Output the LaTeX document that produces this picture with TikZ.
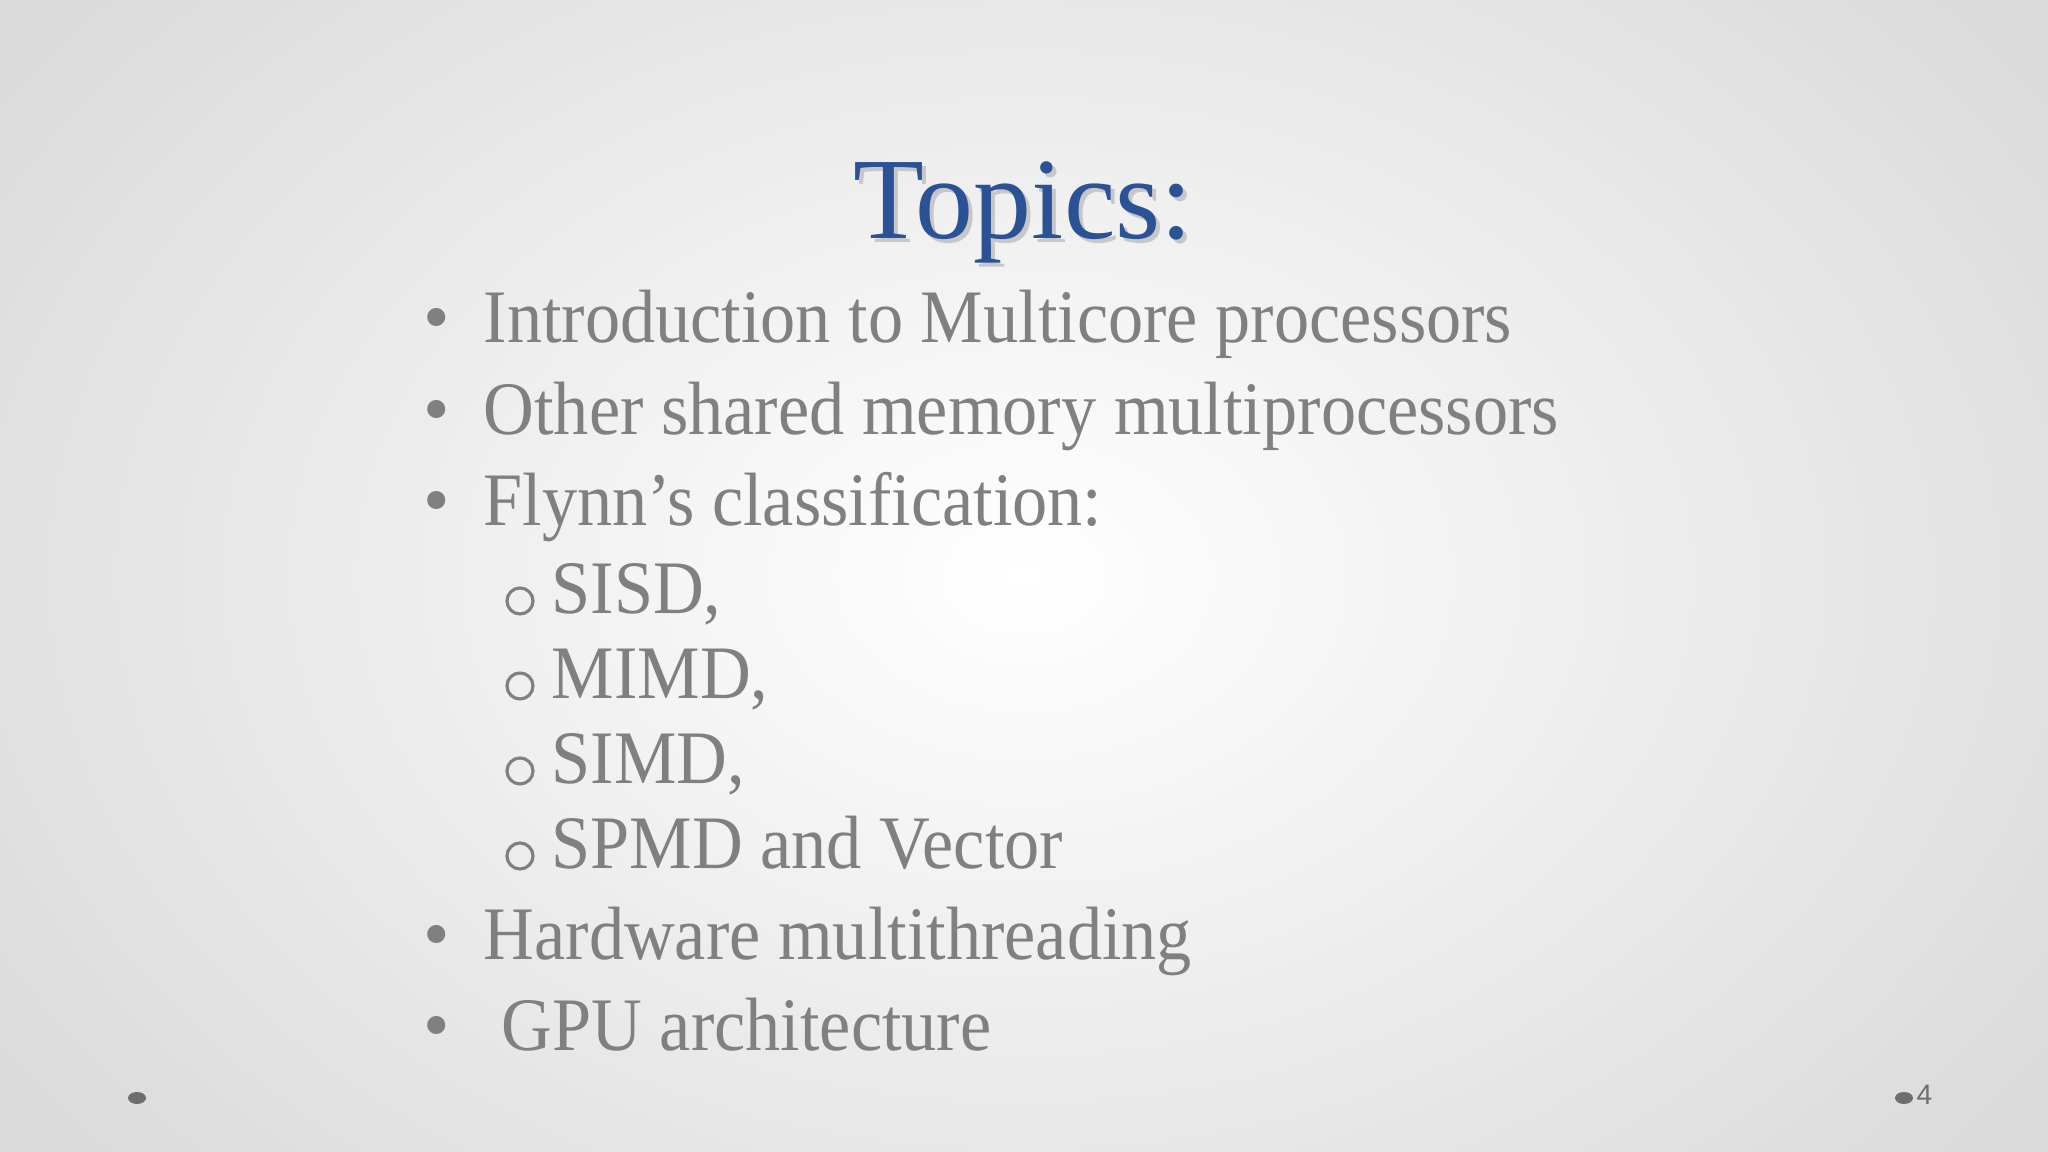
\documentclass[tikz,border=0pt]{standalone}
\usepackage{fontspec}
\setmainfont{Liberation Serif}
\newfontfamily\narrowf[FakeStretch=0.93]{Liberation Serif}
\newfontfamily\sansf{Liberation Sans}
\definecolor{titleblue}{RGB}{44,82,150}
\definecolor{txtgray}{RGB}{128,128,128}
\definecolor{dotgray}{RGB}{110,110,110}
\begin{document}
\begin{tikzpicture}[
  item/.style={anchor=base west,inner sep=0pt,text=txtgray,font=\narrowf\fontsize{21.5}{24}\selectfont},
  bul/.style={anchor=base,inner sep=0pt,text=txtgray,font=\fontsize{21.5}{24}\selectfont}]
\useasboundingbox (0,0) rectangle (20.48,11.52);
\shade[inner color=white,outer color=black!14] (-2,-3) rectangle (22.48,14.52);
\node[anchor=base,inner sep=0pt,text=black!22,font=\fontsize{33}{36}\selectfont] (tsh) at (10.27,9.09) {Topics:};
\node[anchor=base,inner sep=0pt,text=titleblue,font=\fontsize{33}{36}\selectfont] (title) at (10.23,9.13) {Topics:};
\foreach \y/\t/\n in {8.09/Introduction to Multicore processors/a,7.17/Other shared memory multiprocessors/b,6.26/Flynn’s classification:/c,1.92/Hardware multithreading/d}{
  \node[bul] (b\n) at (4.37,\y) {•};
  \node[item] (t\n) at (4.83,\y) {\t};
}
\node[bul] (be) at (4.37,1.01) {•};
\node[item] (te) at (5.01,1.01) {GPU architecture};
\foreach \y/\t/\n in {5.38/{SISD,}/a,4.53/{MIMD,}/b,3.68/{SIMD,}/c,2.83/SPMD and Vector/d}{
  \draw[txtgray,line width=0.9pt] (5.20,\y+0.13) circle (0.13);
  \node[item] (s\n) at (5.51,\y) {\t};
}
\fill[dotgray] (1.37,0.54) ellipse (0.09 and 0.06);
\fill[dotgray] (19.04,0.54) ellipse (0.09 and 0.06);
\node[anchor=base west,inner sep=0pt,text=dotgray,font=\sansf\fontsize{8}{10}\selectfont] (pg) at (19.16,0.47) {4};
\end{tikzpicture}
\end{document}
